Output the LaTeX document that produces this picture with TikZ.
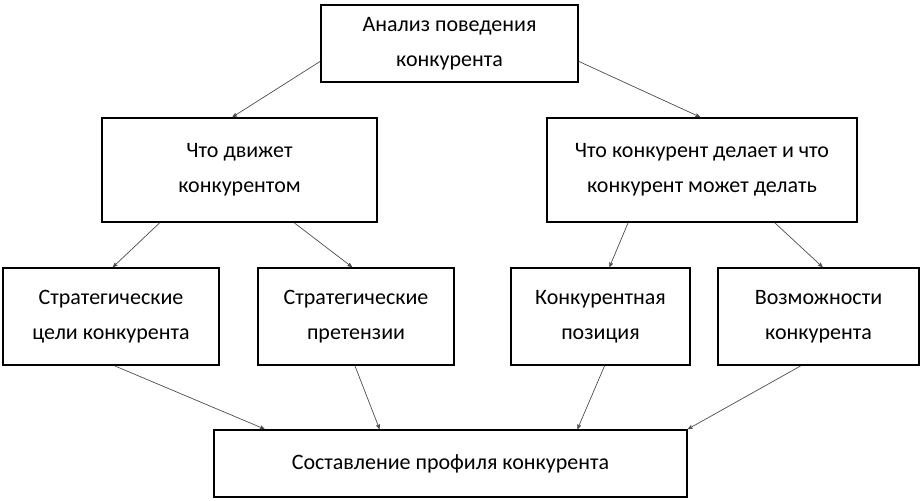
\documentclass[tikz,border=0pt]{standalone}
\usepackage{fontspec}
\setmainfont{Carlito}
\usetikzlibrary{arrows}

\begin{document}
\begin{tikzpicture}[x=1pt,y=-1pt]
\tikzstyle{block} = [rectangle, draw=black, line width=2pt, align=center,
font=\fontsize{22}{35}\selectfont, inner sep=0pt]
\tikzstyle{line} = [draw, gray!60!black, line width=0.7pt, -stealth'];
\useasboundingbox (0,0) rectangle (922,501);
% top
\node [block, minimum width=257, minimum height=77] (analiz) at (449.5,43.5) {Анализ поведения\\конкурента};
% row 2
\node [block, minimum width=275, minimum height=104] (dvizhet) at (239.5,170) {Что движет\\конкурентом};
\node [block, minimum width=310, minimum height=104] (delaet) at (702,170) {Что конкурент делает и что\\конкурент может делать};
% row 3
\node [block, minimum width=216, minimum height=97] (tseli) at (111,316.5) {Стратегические\\цели конкурента};
\node [block, minimum width=196, minimum height=97] (pretenzii) at (356,316.5) {Стратегические\\претензии};
\node [block, minimum width=179, minimum height=97] (pozitsiya) at (600.5,316.5) {Конкурентная\\позиция};
\node [block, minimum width=201, minimum height=97] (vozm) at (818.5,316.5) {Возможности\\конкурента};
% bottom
\node [block, minimum width=473, minimum height=67] (profil) at (450.5,463.5) {Составление профиля конкурента};
\tikzstyle{every path}=[line]
\path ([yshift=-18]analiz.west) -- ([xshift=-7]dvizhet.north);
\path ([yshift=-18]analiz.east) -- ([xshift=-2]delaet.north);
\path ([xshift=-80]dvizhet.south) -- ([xshift=2]tseli.north);
\path ([xshift=55]dvizhet.south) -- ([xshift=-4]pretenzii.north);
\path ([xshift=-74]delaet.south) -- ([xshift=9]pozitsiya.north);
\path ([xshift=73]delaet.south) -- ([xshift=4]vozm.north);
\path ([xshift=4]tseli.south) -- ([xshift=-186]profil.north);
\path ([xshift=-1]pretenzii.south) -- ([xshift=-71]profil.north);
\path ([xshift=4]pozitsiya.south) -- ([xshift=127]profil.north);
\path ([xshift=-18]vozm.south) -- (profil.north east);
\end{tikzpicture}
\end{document}
